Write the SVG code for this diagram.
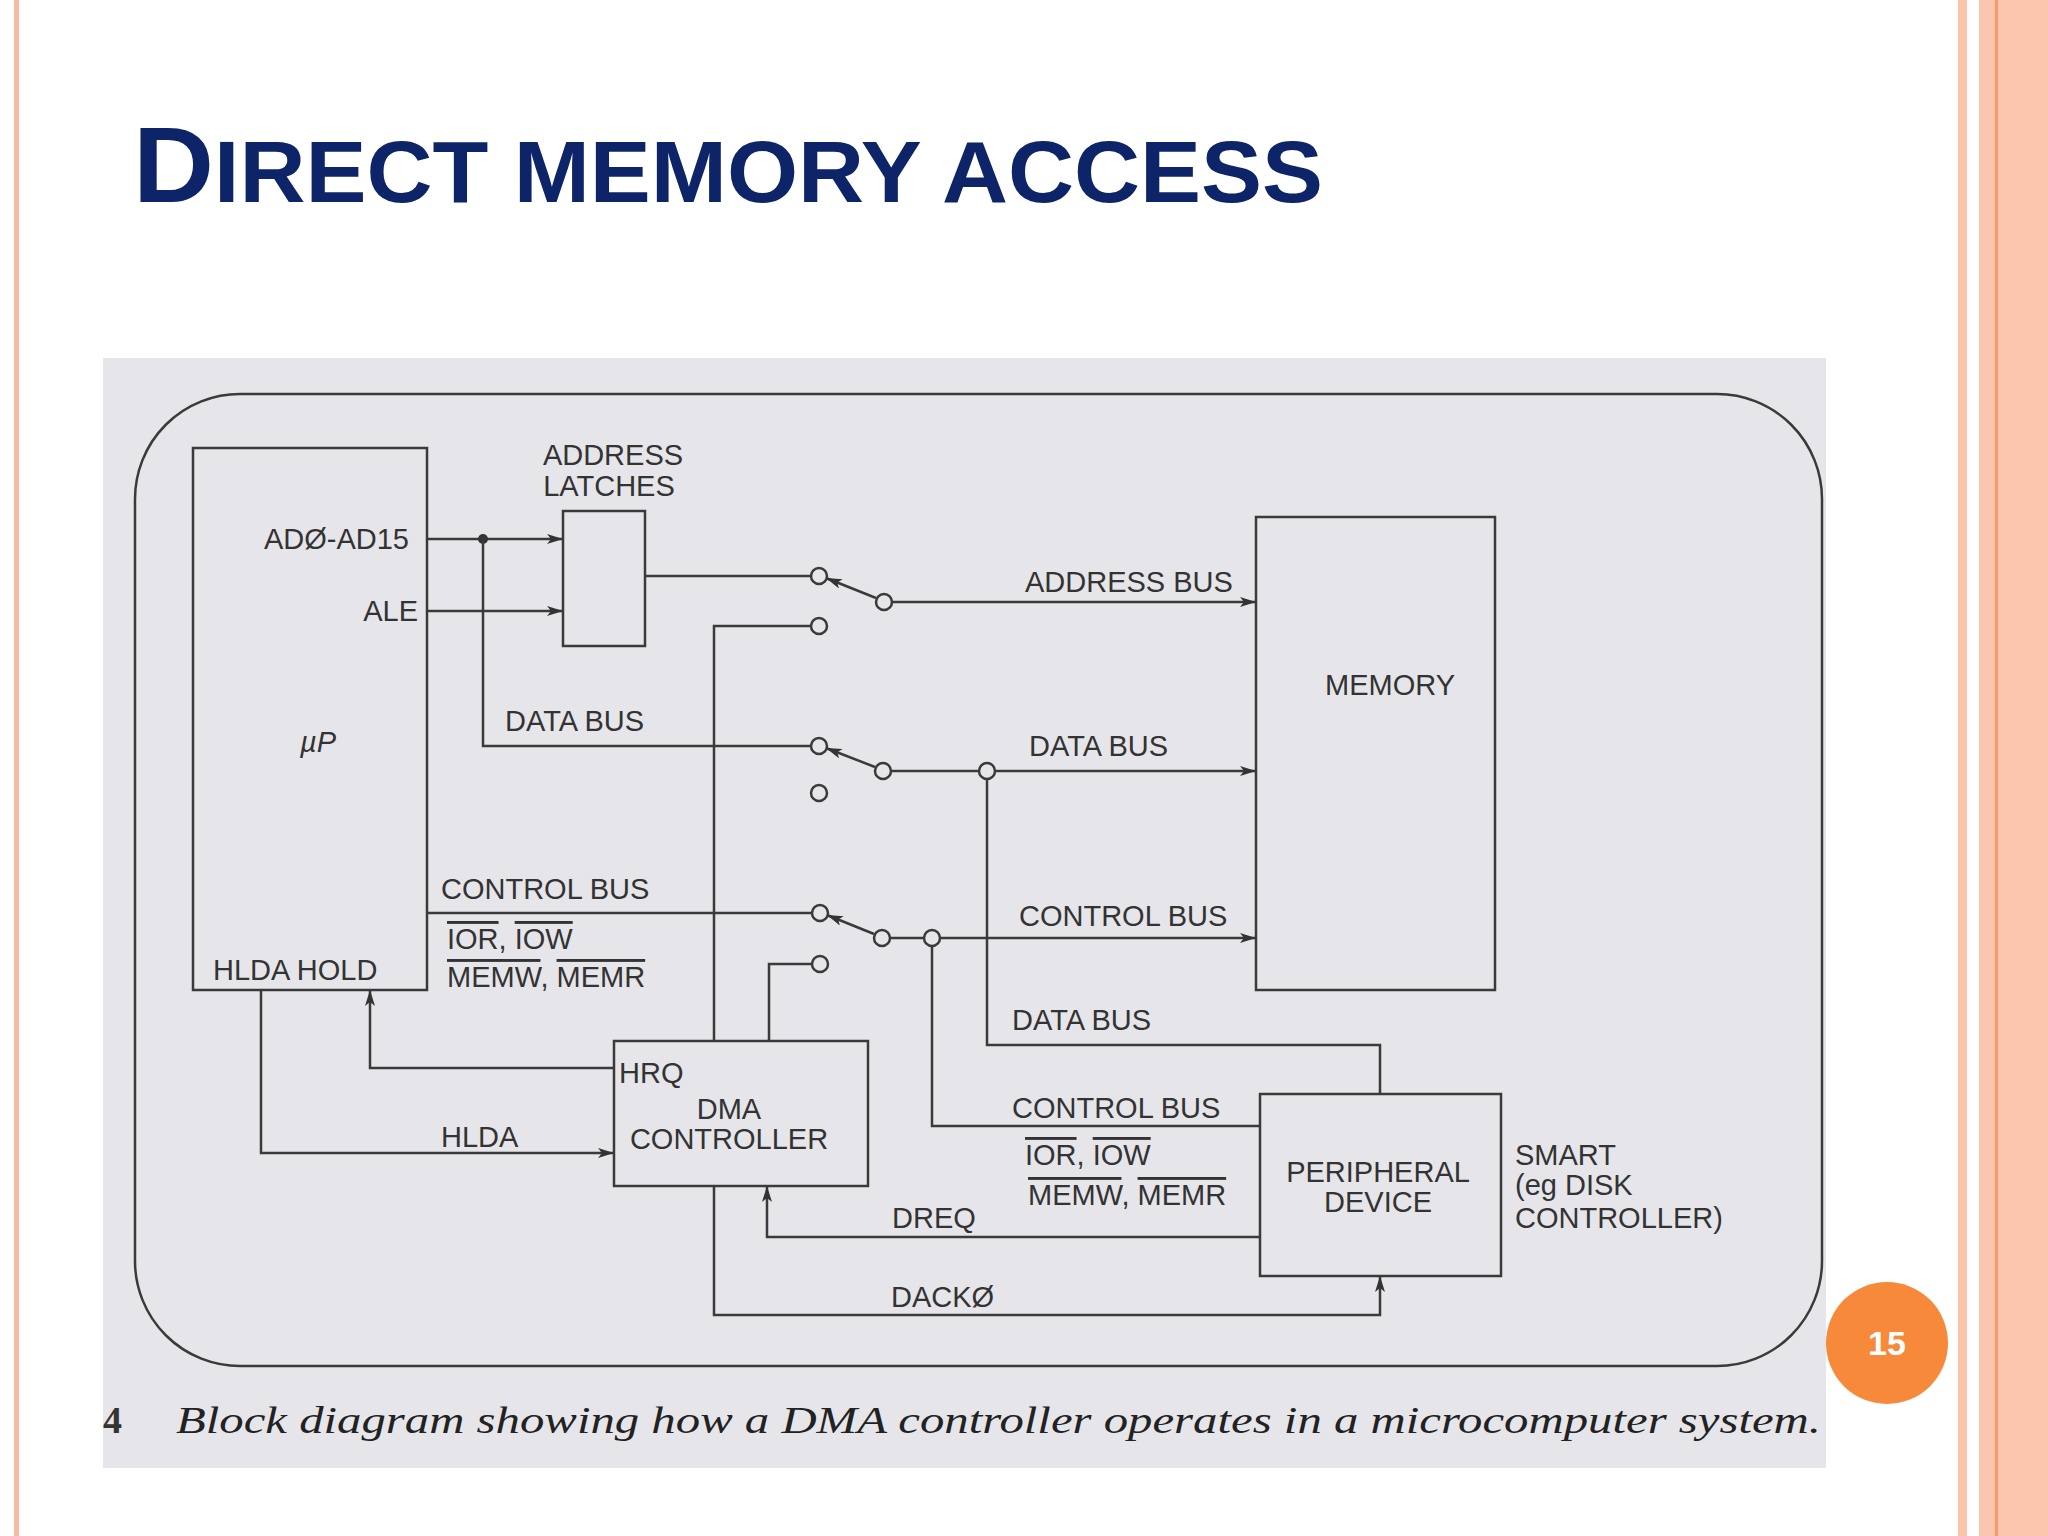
<svg xmlns="http://www.w3.org/2000/svg" width="2048" height="1536" viewBox="0 0 2048 1536">
<defs>
<marker id="ar" viewBox="0 0 16 10" refX="16" refY="5" markerWidth="16" markerHeight="10" markerUnits="userSpaceOnUse" orient="auto"><path d="M0,0 L16,5 L0,10 L4,5 Z" fill="#333"/></marker>
<style>
.l{fill:none;stroke:#3a3a3a;stroke-width:2.5}
.b{fill:none;stroke:#3a3a3a;stroke-width:2.5}
.c{fill:#e6e6ea;stroke:#3a3a3a;stroke-width:2.5}
.t{font-family:"Liberation Sans",Arial,sans-serif;font-size:29px;fill:#333}
.m{text-anchor:middle}
.e{text-anchor:end}
.o{text-decoration:overline}
</style>
</defs>
<rect width="2048" height="1536" fill="#fff"/>
<rect x="14" y="0" width="5" height="1536" fill="#f7b9a3"/>
<rect x="1958" y="0" width="9" height="1536" fill="#fcc4ab"/>
<rect x="1979" y="0" width="69" height="1536" fill="#fcc6ae"/>
<rect x="1995" y="0" width="3" height="1536" fill="#f79a6a"/>
<text x="133" y="202" font-family="Liberation Sans,Arial,sans-serif" font-weight="bold" fill="#0d2468" textLength="1190" lengthAdjust="spacingAndGlyphs"><tspan font-size="108">D</tspan><tspan font-size="88">IRECT MEMORY ACCESS</tspan></text>
<rect x="103" y="358" width="1723" height="1110" fill="#e6e6ea"/>
<rect x="135" y="394" width="1687" height="972" rx="105" class="b"/>
<g id="up"><rect x="193" y="448" width="234" height="542" class="b"/>
<text class="t e" x="409" y="549">ADØ-AD15</text><text class="t e" x="418" y="621">ALE</text>
<text class="t" x="300" y="752" font-style="italic">µP</text><text class="t" x="213" y="980">HLDA HOLD</text></g>
<g id="latch"><rect x="563" y="511" width="82" height="135" class="b"/>
<text class="t m" x="613" y="465">ADDRESS</text><text class="t m" x="609" y="496">LATCHES</text></g>
<g id="memory"><rect x="1256" y="517" width="239" height="473" class="b"/><text class="t m" x="1390" y="695">MEMORY</text></g>
<g id="dma"><rect x="614" y="1041" width="254" height="145" class="b"/>
<text class="t" x="619" y="1083">HRQ</text><text class="t m" x="729" y="1119">DMA</text><text class="t m" x="729" y="1149">CONTROLLER</text></g>
<g id="periph"><rect x="1260" y="1094" width="241" height="182" class="b"/>
<text class="t m" x="1378" y="1182">PERIPHERAL</text><text class="t m" x="1378" y="1212">DEVICE</text>
<text class="t" x="1515" y="1165">SMART</text><text class="t" x="1515" y="1195">(eg DISK</text><text class="t" x="1515" y="1228">CONTROLLER)</text></g>
<g id="connectors">
<path class="l" d="M427,539 H563" marker-end="url(#ar)"/>
<path class="l" d="M427,611 H563" marker-end="url(#ar)"/>
<circle cx="483" cy="539" r="5" fill="#333"/>
<path class="l" d="M483,539 V746 H811"/>
<path class="l" d="M645,576 H811"/>
<path class="l" d="M876,598 L826,578" marker-end="url(#ar)"/>
<path class="l" d="M892,602 H1256" marker-end="url(#ar)"/>
<path class="l" d="M811,626 H714 V1041"/>
<path class="l" d="M875,767 L826,748" marker-end="url(#ar)"/>
<path class="l" d="M891,771 H979 M995,771 H1256" marker-end="url(#ar)"/>
<path class="l" d="M987,779 V1045 H1380 V1094"/>
<path class="l" d="M427,913 H812"/>
<path class="l" d="M874,934 L827,915" marker-end="url(#ar)"/>
<path class="l" d="M890,938 H924 M940,938 H1256" marker-end="url(#ar)"/>
<path class="l" d="M812,964 H769 V1041"/>
<path class="l" d="M932,946 V1126 H1260"/>
<path class="l" d="M261,990 V1153 H614" marker-end="url(#ar)"/>
<path class="l" d="M614,1068 H370 V990" marker-end="url(#ar)"/>
<path class="l" d="M1260,1237 H767 V1186" marker-end="url(#ar)"/>
<path class="l" d="M714,1186 V1315 H1380 V1276" marker-end="url(#ar)"/>
<g class="c"><circle cx="819" cy="576" r="8"/><circle cx="819" cy="626" r="8"/><circle cx="884" cy="602" r="8"/>
<circle cx="819" cy="746" r="8"/><circle cx="819" cy="793" r="8"/><circle cx="883" cy="771" r="8"/><circle cx="987" cy="771" r="8"/>
<circle cx="820" cy="913" r="8"/><circle cx="820" cy="964" r="8"/><circle cx="882" cy="938" r="8"/><circle cx="932" cy="938" r="8"/></g>
<text class="t" x="505" y="731">DATA BUS</text>
<text class="t" x="441" y="899">CONTROL BUS</text>
<text class="t" x="447" y="949"><tspan class="o">IOR</tspan>, <tspan class="o">IOW</tspan></text>
<text class="t" x="447" y="987"><tspan class="o">MEMW</tspan>, <tspan class="o">MEMR</tspan></text>
<text class="t" x="1025" y="592">ADDRESS BUS</text>
<text class="t" x="1029" y="756">DATA BUS</text>
<text class="t" x="1019" y="926">CONTROL BUS</text>
<text class="t" x="1012" y="1030">DATA BUS</text>
<text class="t" x="441" y="1147">HLDA</text>
<text class="t" x="1012" y="1118">CONTROL BUS</text>
<text class="t" x="1025" y="1165"><tspan class="o">IOR</tspan>, <tspan class="o">IOW</tspan></text>
<text class="t" x="1028" y="1205"><tspan class="o">MEMW</tspan>, <tspan class="o">MEMR</tspan></text>
<text class="t" x="892" y="1228">DREQ</text>
<text class="t" x="891" y="1307">DACKØ</text>
</g>
<text x="103" y="1433" font-family="Liberation Serif,serif" font-size="38" font-weight="bold" fill="#333">4</text>
<text x="176" y="1433" font-family="Liberation Serif,serif" font-size="38" font-style="italic" fill="#222" textLength="1645" lengthAdjust="spacingAndGlyphs">Block diagram showing how a DMA controller operates in a microcomputer system.</text>
<circle cx="1887" cy="1343" r="61" fill="#f7893b"/>
<text x="1887" y="1355" text-anchor="middle" font-family="Liberation Sans,Arial,sans-serif" font-size="34" font-weight="bold" fill="#fff">15</text>
</svg>
